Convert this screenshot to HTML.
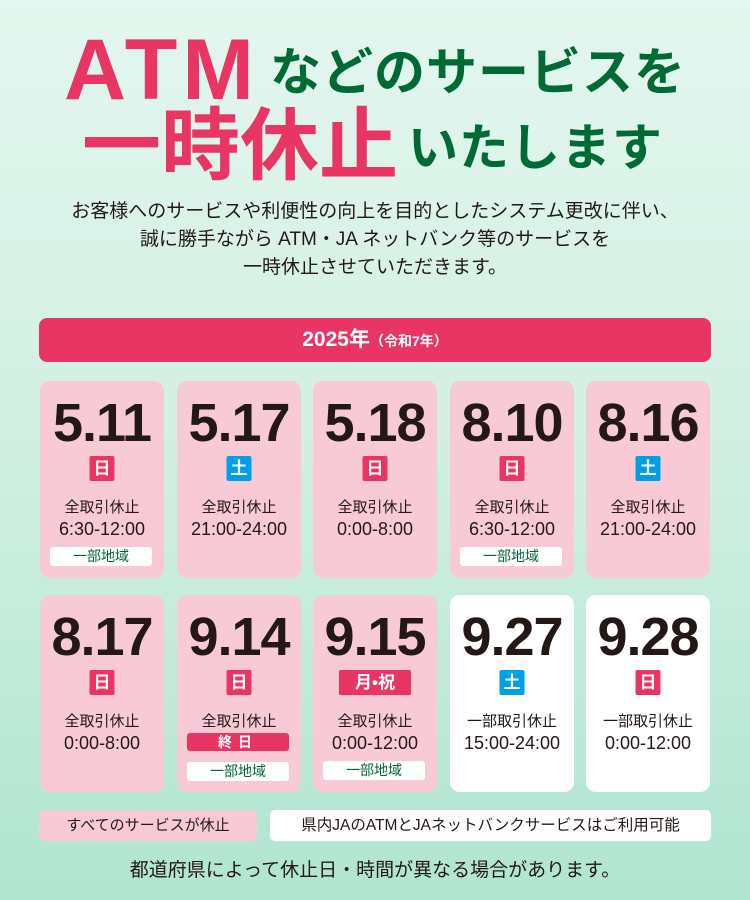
<!DOCTYPE html>
<html><head><meta charset="utf-8">
<style>
*{margin:0;padding:0;box-sizing:border-box}
body{width:750px;height:900px;overflow:hidden;font-family:"Liberation Sans","Noto Sans CJK JP",sans-serif;}
#root{position:relative;width:750px;height:900px;background:linear-gradient(180deg,#e3f6ef 0%,#d3f0e4 45%,#b0e5d1 100%);}
.abs{position:absolute;white-space:nowrap}
.pink{color:#e83563}
.green{color:#006a35}
.para{left:0;width:750px;text-align:center;font-size:19px;color:#231815;line-height:28px}
.banner{left:39px;top:318px;width:672px;height:44px;background:#e83563;border-radius:8px;color:#fff;text-align:center;font-weight:bold;font-size:21px;line-height:44px}
.card{position:absolute;width:124px;height:197px;border-radius:10px;background:#f7cad6;text-align:center;color:#231815}
.card.white{background:#fff}
.date{position:absolute;left:0;width:100%;top:14px;font-size:54px;font-weight:bold;letter-spacing:-1px;line-height:56px;font-family:"Liberation Sans",sans-serif}
.badge{position:absolute;top:75px;left:50%;transform:translateX(-50%);height:25px;min-width:25px;padding:0 3px;border-radius:2px;color:#fff;font-weight:bold;font-size:17px;line-height:25px}
.sun{background:#e83563}.sat{background:#00a0e6}
.l1{position:absolute;left:0;width:100%;top:117px;font-size:15px;line-height:20px}
.l2{position:absolute;left:0;width:100%;top:137px;font-size:18px;line-height:22px}
.area{position:absolute;left:10px;width:102px;height:19px;background:#fff;border-radius:3px;color:#006a35;font-size:14px;line-height:19px}
.full{position:absolute;left:10px;width:102px;height:18px;background:#e83563;border-radius:3px;color:#fff;font-size:14px;font-weight:bold;line-height:18px;letter-spacing:6px}
</style></head><body>
<div id="root">
<div class="abs pink" style="left:64px;top:20px;font-size:86px;font-weight:bold;line-height:100px;letter-spacing:5px">ATM</div>
<div class="abs green" style="left:270px;top:38px;font-size:51px;font-weight:bold;line-height:70px;letter-spacing:1px">などのサービスを</div>
<div class="abs pink" style="left:82px;top:100px;font-size:79px;font-weight:bold;line-height:92px;">一時休止</div>
<div class="abs green" style="left:408px;top:113px;font-size:50px;font-weight:bold;line-height:70px;letter-spacing:1px">いたします</div>
<div class="abs para" style="top:198px">お客様へのサービスや利便性の向上を目的としたシステム更改に伴い、<br>誠に勝手ながら ATM・JA ネットバンク等のサービスを<br>一時休止させていただきます。</div>
<div class="abs banner">2025年<span style="font-size:14px">（令和7年）</span></div>

<div class="card" style="left:40px;top:381px"><div class="date">5.11</div><div class="badge sun">日</div><div class="l1">全取引休止</div><div class="l2">6:30-12:00</div><div class="area" style="top:166px">一部地域</div></div>
<div class="card" style="left:177px;top:381px"><div class="date">5.17</div><div class="badge sat">土</div><div class="l1">全取引休止</div><div class="l2">21:00-24:00</div></div>
<div class="card" style="left:313px;top:381px"><div class="date">5.18</div><div class="badge sun">日</div><div class="l1">全取引休止</div><div class="l2">0:00-8:00</div></div>
<div class="card" style="left:450px;top:381px"><div class="date">8.10</div><div class="badge sun">日</div><div class="l1">全取引休止</div><div class="l2">6:30-12:00</div><div class="area" style="top:166px">一部地域</div></div>
<div class="card" style="left:586px;top:381px"><div class="date">8.16</div><div class="badge sat">土</div><div class="l1">全取引休止</div><div class="l2">21:00-24:00</div></div>

<div class="card" style="left:40px;top:595px"><div class="date">8.17</div><div class="badge sun">日</div><div class="l1">全取引休止</div><div class="l2">0:00-8:00</div></div>
<div class="card" style="left:177px;top:595px"><div class="date">9.14</div><div class="badge sun">日</div><div class="l1">全取引休止</div><div class="full" style="top:138px">終日</div><div class="area" style="top:167px">一部地域</div></div>
<div class="card" style="left:313px;top:595px"><div class="date">9.15</div><div class="badge sun" style="width:72px">月•祝</div><div class="l1">全取引休止</div><div class="l2">0:00-12:00</div><div class="area" style="top:166px">一部地域</div></div>
<div class="card white" style="left:450px;top:595px"><div class="date">9.27</div><div class="badge sat">土</div><div class="l1">一部取引休止</div><div class="l2">15:00-24:00</div></div>
<div class="card white" style="left:586px;top:595px"><div class="date">9.28</div><div class="badge sun">日</div><div class="l1">一部取引休止</div><div class="l2">0:00-12:00</div></div>

<div class="abs" style="left:39px;top:810px;width:218px;height:31px;background:#f7cad6;border-radius:5px;font-size:15px;line-height:31px;text-align:center;color:#231815">すべてのサービスが休止</div>
<div class="abs" style="left:270px;top:810px;width:441px;height:31px;background:#fff;border-radius:5px;font-size:15.5px;line-height:31px;text-align:center;color:#231815">県内JAのATMとJAネットバンクサービスはご利用可能</div>
<div class="abs" style="left:0;width:750px;top:857px;text-align:center;font-size:19px;line-height:28px;color:#231815">都道府県によって休止日・時間が異なる場合があります。</div>
</div>
</body></html>
